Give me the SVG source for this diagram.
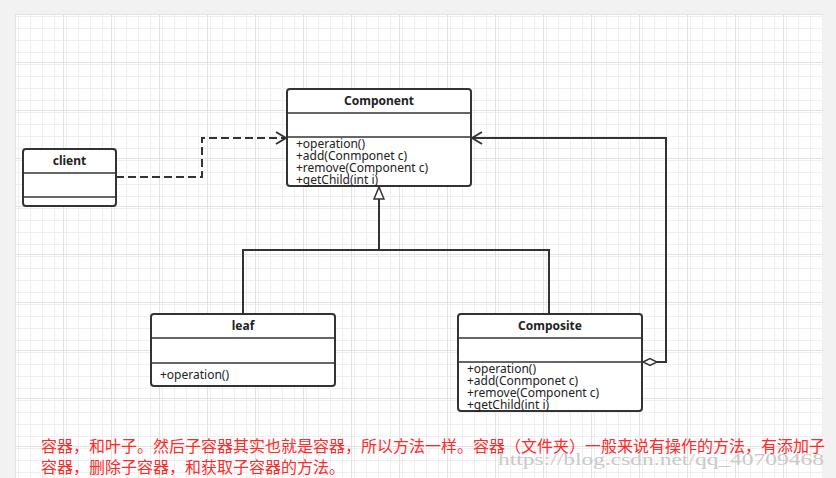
<svg xmlns="http://www.w3.org/2000/svg" width="836" height="478" viewBox="0 0 836 478">
<defs>
<pattern id="minor" x="15" y="14" width="12" height="12" patternUnits="userSpaceOnUse">
<path d="M0.5 0V12M0 0.5H12" stroke="#efefef" stroke-width="1" fill="none"/>
</pattern>
<pattern id="major" x="15" y="14" width="48" height="48" patternUnits="userSpaceOnUse">
<rect width="48" height="48" fill="url(#minor)"/>
<path d="M0.5 0V48M0 0.5H48" stroke="#e2e2e2" stroke-width="1" fill="none"/>
</pattern>
<marker id="open" viewBox="0 0 12 14" refX="11" refY="7" markerWidth="12" markerHeight="14" markerUnits="userSpaceOnUse" orient="auto">
<path d="M1 1L11 7L1 13" fill="none" stroke="#333" stroke-width="2"/>
</marker>
<marker id="tri" viewBox="0 0 14 12" refX="13" refY="6" markerWidth="14" markerHeight="12" markerUnits="userSpaceOnUse" orient="auto">
<path d="M1 1L13 6L1 11Z" fill="#fff" stroke="#333" stroke-width="1.5"/>
</marker>
<marker id="dia" viewBox="0 0 16 10" refX="1" refY="5" markerWidth="16" markerHeight="10" markerUnits="userSpaceOnUse" orient="auto">
<path d="M1 5L8 1.5L15 5L8 8.5Z" fill="#fff" stroke="#333" stroke-width="1.5"/>
</marker>
</defs>
<style>
.box{fill:#fff;stroke:#333;stroke-width:2}
.div{stroke:#333;stroke-width:1.5}
.title{font-family:"Noto Sans","Liberation Sans",sans-serif;font-size:12px;font-weight:bold;fill:#222;text-anchor:middle}
.m{font-family:"Noto Sans","Liberation Sans",sans-serif;font-size:12px;fill:#222}
.edge{fill:none;stroke:#333;stroke-width:2}
.note{font-family:"Noto Sans CJK SC",sans-serif;font-size:16px;fill:#ff2a2a}
.wm{font-family:"Liberation Serif",serif;font-size:17px;fill:#c9c9c9}
</style>
<rect width="836" height="478" fill="#f2f2f2"/>
<rect x="15" y="14" width="808" height="464" fill="#fff"/>
<rect x="15" y="14" width="808" height="464" fill="url(#major)"/>

<g id="connectors">
<path class="edge" d="M116 177H202V138H286" stroke-dasharray="8,4" marker-end="url(#open)"/>
<path class="edge" d="M243 314V250H549V314M379 250V187" marker-end="url(#tri)"/>
<path class="edge" d="M643 362H666V138H472" marker-start="url(#dia)" marker-end="url(#open)"/>
</g>

<g id="component">
<rect class="box" x="287" y="89" width="184" height="97" rx="3"/>
<line class="div" x1="287" y1="113" x2="471" y2="113"/>
<line class="div" x1="287" y1="137" x2="471" y2="137"/>
<text class="title" x="379" y="105">Component</text>
<text class="m" x="296" y="148">+operation()</text>
<text class="m" x="296" y="160">+add(Conmponet c)</text>
<text class="m" x="296" y="172">+remove(Component c)</text>
<text class="m" x="296" y="184">+getChild(int i)</text>
</g>

<g id="client">
<rect class="box" x="23" y="149" width="93" height="57" rx="3"/>
<line class="div" x1="23" y1="173" x2="116" y2="173"/>
<line class="div" x1="23" y1="197" x2="116" y2="197"/>
<text class="title" x="69.5" y="165">client</text>
</g>

<g id="leaf">
<rect class="box" x="151" y="314" width="184" height="72" rx="3"/>
<line class="div" x1="151" y1="338" x2="335" y2="338"/>
<line class="div" x1="151" y1="363" x2="335" y2="363"/>
<text class="title" x="243" y="330">leaf</text>
<text class="m" x="160" y="379">+operation()</text>
</g>

<g id="composite">
<rect class="box" x="458" y="314" width="184" height="97" rx="3"/>
<line class="div" x1="458" y1="338" x2="642" y2="338"/>
<line class="div" x1="458" y1="362" x2="642" y2="362"/>
<text class="title" x="550" y="330">Composite</text>
<text class="m" x="467" y="373">+operation()</text>
<text class="m" x="467" y="385">+add(Conmponet c)</text>
<text class="m" x="467" y="397">+remove(Component c)</text>
<text class="m" x="467" y="409">+getChild(int i)</text>
</g>

<g id="note">
<text class="wm" x="498" y="465" textLength="326" lengthAdjust="spacingAndGlyphs">https://blog.csdn.net/qq_40709468</text>
<text class="note" x="41" y="452">容器，和叶子。然后子容器其实也就是容器，所以方法一样。容器（文件夹）一般来说有操作的方法，有添加子</text>
<text class="note" x="41" y="473">容器，删除子容器，和获取子容器的方法。</text>
</g>
</svg>
